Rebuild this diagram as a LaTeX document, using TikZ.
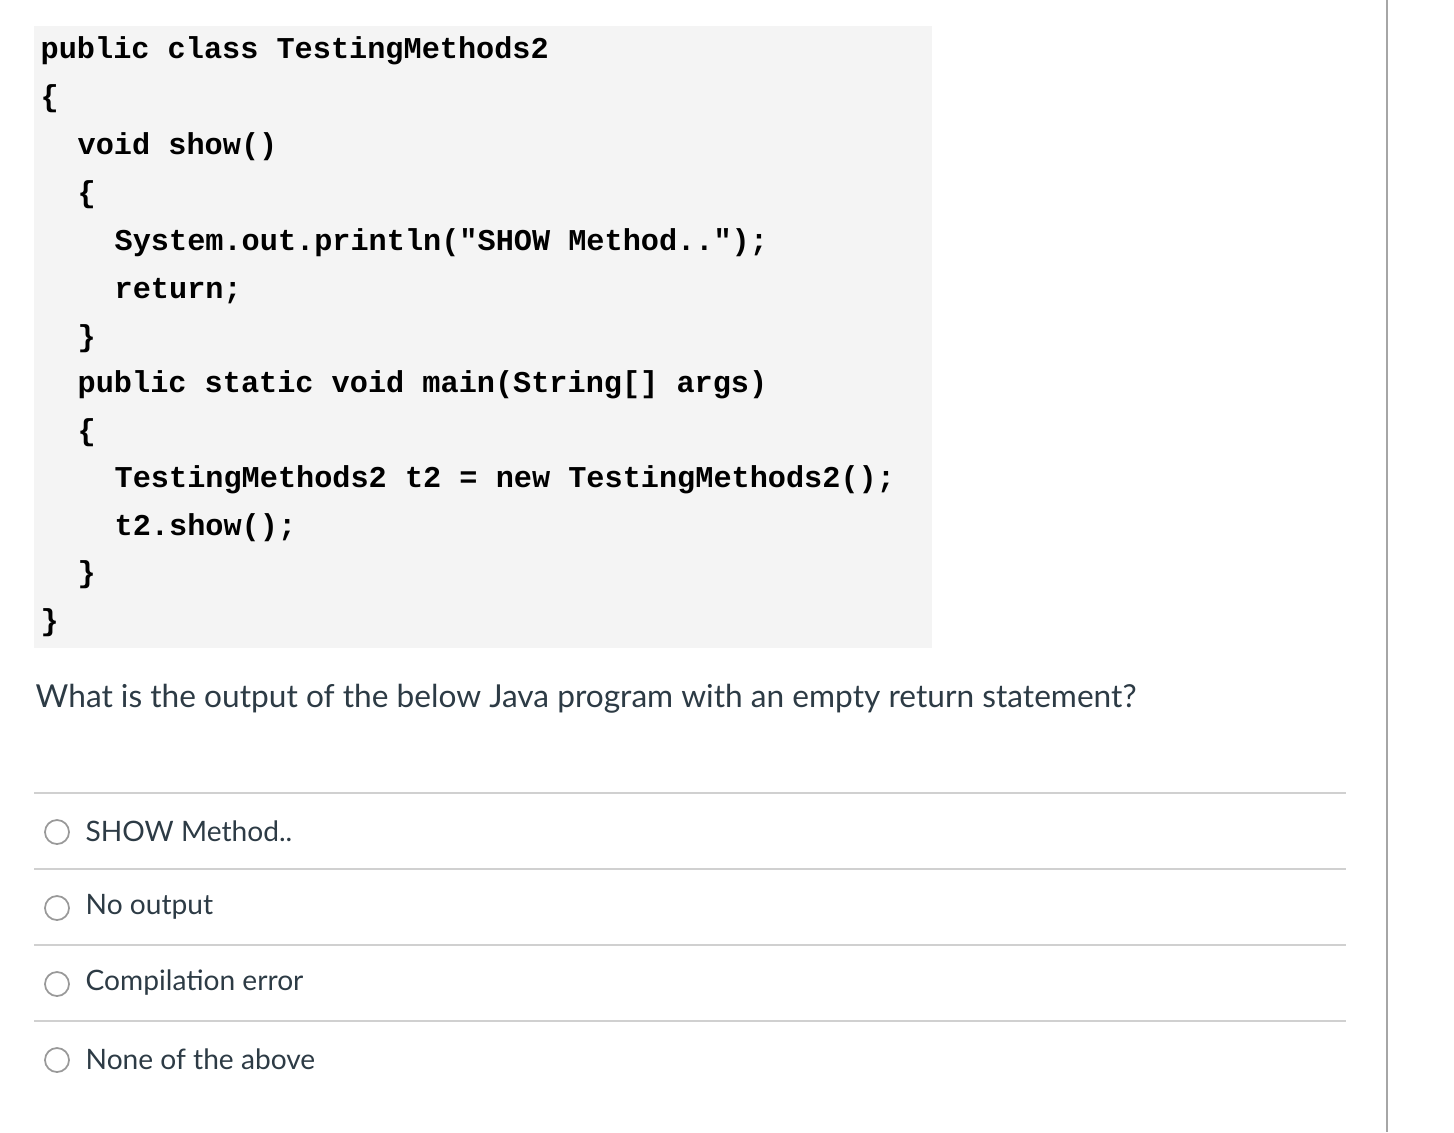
\documentclass[tikz,border=0pt]{standalone}
\usepackage{fontspec}
\setmainfont{Lato}
\newfontfamily\codefont{Liberation Mono}
\definecolor{codebg}{HTML}{F4F4F4}
\definecolor{rule}{HTML}{D0D0D0}
\definecolor{txt}{HTML}{2D3B45}
\begin{document}
\begin{tikzpicture}[x=0.01cm,y=-0.01cm,
  code/.style={anchor=west,inner sep=0,font=\codefont\bfseries\fontsize{8.6pt}{10pt}\selectfont},
  opt/.style={anchor=west,inner sep=0,text=txt,font=\fontsize{8.0pt}{10pt}\selectfont},
  radio/.style={draw=gray!80,line width=0.5pt,circle,minimum size=0.24cm,inner sep=0}]
\useasboundingbox (0,0) rectangle (1454,1132);
\fill[codebg] (34,26) rectangle (932,648);
\node[code] (l1) at (40,51) {public class TestingMethods2};
\node[code] (l2) at (40,99) {\{};
\node[code] (l3) at (77,147) {void show()};
\node[code] (l4) at (77,195) {\{};
\node[code] (l5) at (114,243) {System.out.println("SHOW Method..");};
\node[code] (l6) at (114,291) {return;};
\node[code] (l7) at (77,339) {\}};
\node[code] (l8) at (77,385) {public static void main(String[] args)};
\node[code] (l9) at (77,433) {\{};
\node[code] (l10) at (114,480) {TestingMethods2 t2 = new TestingMethods2();};
\node[code] (l11) at (114,528) {t2.show();};
\node[code] (l12) at (77,575) {\}};
\node[code] (l13) at (40,623) {\}};
\node[opt,font=\fontsize{9.0pt}{11pt}\selectfont] (q) at (35,699) {What is the output of the below Java program with an empty return statement?};
\foreach \y in {793,869,945,1021} \draw[rule,line width=0.4pt] (34,\y) -- (1346,\y);
\draw[gray!70,line width=0.6pt] (1387,0) -- (1387,1132);
\node[radio] (r1) at (57,832) {}; \node[opt] (o1) at (85,831) {SHOW Method..};
\node[radio] (r2) at (57,908) {}; \node[opt] (o2) at (85,907) {No output};
\node[radio] (r3) at (57,984) {}; \node[opt] (o3) at (85,983) {Compilation error};
\node[radio] (r4) at (57,1060) {}; \node[opt] (o4) at (85,1059) {None of the above};
\end{tikzpicture}
\end{document}
